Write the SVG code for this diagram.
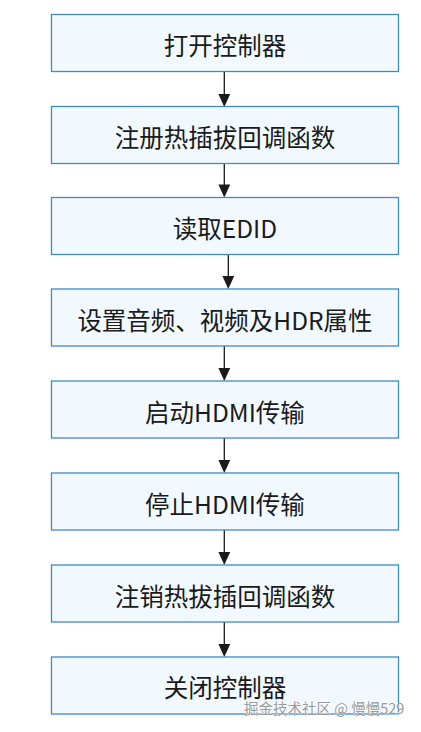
<svg xmlns="http://www.w3.org/2000/svg" width="421" height="732" viewBox="0 0 421 732">
<style>
.box{fill:#f1f9fe;stroke:#3e8cc4;stroke-width:1.3}
.lbl{font-family:"Noto Sans CJK SC","Noto Sans",sans-serif;font-size:24.5px;fill:#1a1a1a;text-anchor:middle;dominant-baseline:central}
.ln{stroke:#1a1a1a;stroke-width:1.3;fill:none}
.ah{fill:#1a1a1a}
.wm{font-family:"Noto Sans CJK SC","Noto Sans",sans-serif;font-size:14.5px;fill:#9a9a9a;stroke:#ffffff;stroke-width:0.6;paint-order:stroke}
</style>
<rect width="421" height="732" fill="#ffffff"/>
<g id="connectors">
<line class="ln" x1="224.3" y1="71.5" x2="224.3" y2="95"/><polygon class="ah" points="218.4,94 230.2,94 224.3,107"/>
<line class="ln" x1="224.3" y1="163.5" x2="224.3" y2="185"/><polygon class="ah" points="218.4,184.5 230.2,184.5 224.3,197.5"/>
<line class="ln" x1="228.3" y1="254.5" x2="228.3" y2="277"/><polygon class="ah" points="222.4,276 234.2,276 228.3,289"/>
<line class="ln" x1="224.3" y1="346" x2="224.3" y2="369"/><polygon class="ah" points="218.4,368 230.2,368 224.3,381"/>
<line class="ln" x1="224.3" y1="438" x2="224.3" y2="461"/><polygon class="ah" points="218.4,460 230.2,460 224.3,473"/>
<line class="ln" x1="224.3" y1="530" x2="224.3" y2="553"/><polygon class="ah" points="218.4,552 230.2,552 224.3,565"/>
<line class="ln" x1="224.3" y1="622" x2="224.3" y2="645"/><polygon class="ah" points="218.4,644 230.2,644 224.3,657"/>
</g>
<g id="n1"><rect class="box" x="51.5" y="14.5" width="347" height="57"/><text class="lbl" x="225" y="44.5">打开控制器</text></g>
<g id="n2"><rect class="box" x="51.5" y="106.5" width="347" height="57"/><text class="lbl" x="225" y="136.5">注册热插拔回调函数</text></g>
<g id="n3"><rect class="box" x="51.5" y="197.5" width="347" height="57"/><text class="lbl" x="225" y="227.5">读取EDID</text></g>
<g id="n4"><rect class="box" x="51.5" y="289" width="347" height="57"/><text class="lbl" x="225" y="319">设置音频、视频及HDR属性</text></g>
<g id="n5"><rect class="box" x="51.5" y="381" width="347" height="57"/><text class="lbl" x="225" y="411">启动HDMI传输</text></g>
<g id="n6"><rect class="box" x="51.5" y="473" width="347" height="57"/><text class="lbl" x="225" y="503">停止HDMI传输</text></g>
<g id="n7"><rect class="box" x="51.5" y="565" width="347" height="57"/><text class="lbl" x="225" y="595">注销热拔插回调函数</text></g>
<g id="n8"><rect class="box" x="51.5" y="657" width="347" height="57"/><text class="lbl" x="225" y="686">关闭控制器</text></g>
<text class="wm" x="244" y="714">掘金技术社区 @ 慢慢529</text>
</svg>
